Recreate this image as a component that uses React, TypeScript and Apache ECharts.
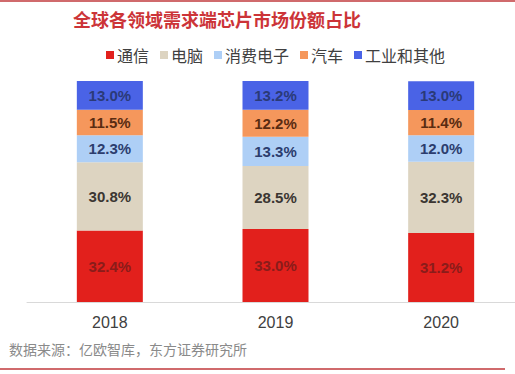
import React, { useEffect, useRef } from "react";
import * as echarts from "echarts";

const categories = ["2018", "2019", "2020"];
const seriesNames = ["通信", "电脑", "消费电子", "汽车", "工业和其他"];
const tongxin = [32.4, 33.0, 31.2];
const diannao = [30.8, 28.5, 32.3];
const xiaofei = [12.3, 13.3, 12.0];
const qiche = [11.5, 12.2, 11.4];
const gongye = [13.0, 13.2, 13.0];
const titleText = "全球各领域需求端芯片市场份额占比";
const sourceText = "数据来源：亿欧智库，东方证券研究所";

const colors = ["#e2201c", "#ddd4c1", "#aecff6", "#f5975c", "#4a63e6"];
const labelColors = ["#8a1c1a", "#3b3632", "#2c3d6e", "#5a2c12", "#2a3a78"];

export default function App() {
  const ref = useRef<HTMLDivElement>(null);
  useEffect(() => {
    if (!ref.current) return;
    const chart = echarts.init(ref.current, null, { renderer: "svg" });
    const dataSets = [tongxin, diannao, xiaofei, qiche, gongye];
    const font = "Arial, 'Liberation Sans', 'Noto Sans CJK SC', sans-serif";
    chart.setOption({
      animation: false,
      backgroundColor: "#ffffff",
      title: {
        text: titleText,
        left: 68,
        top: 5,
        textStyle: { color: "#cc3438", fontSize: 18, fontWeight: "bold", fontFamily: "'Noto Sans CJK SC', sans-serif" },
      },
      legend: {
        data: seriesNames,
        left: 101,
        top: 42,
        icon: "rect",
        itemWidth: 8,
        itemHeight: 8,
        itemGap: 11,
        textStyle: { color: "#404040", fontSize: 16, fontFamily: "'Noto Sans CJK SC', sans-serif", padding: [0, 0, 0, -2] },
      },
      grid: { left: 27, width: 497, top: 81, bottom: 72 },
      xAxis: {
        type: "category",
        data: categories,
        axisLine: { lineStyle: { color: "#d9d9d9" } },
        axisTick: { show: false },
        axisLabel: { color: "#404040", fontSize: 16, margin: 12, fontFamily: font },
      },
      yAxis: { type: "value", min: 0, max: 100, show: false, splitLine: { show: false } },
      series: dataSets.map((d, i) => ({
        name: seriesNames[i],
        type: "bar",
        stack: "total",
        barWidth: 66,
        data: d,
        itemStyle: { color: colors[i] },
        label: {
          show: true,
          position: "inside",
          formatter: (p: any) => p.value.toFixed(1) + "%",
          color: labelColors[i],
          fontSize: 15,
          fontWeight: "bold",
          fontFamily: font,
        },
      })),
      graphic: [
        { type: "line", shape: { x1: 0, y1: 1, x2: 515, y2: 1 }, style: { stroke: "#c0393b", lineWidth: 1.5 } },
        { type: "line", shape: { x1: 0, y1: 369, x2: 505, y2: 369 }, style: { stroke: "#c0393b", lineWidth: 1.5 } },
        {
          type: "text",
          left: 9,
          top: 342,
          style: { text: sourceText, fill: "#8a8a8a", fontSize: 14, fontFamily: "'Noto Sans CJK SC', sans-serif" },
        },
      ],
    });
    return () => chart.dispose();
  }, []);
  return (
    <div style={{ width: 515, height: 374, position: "absolute", left: 0, top: 0, overflow: "hidden", background: "#fff" }}>
      <div ref={ref} style={{ width: 530, height: 374 }} />
    </div>
  );
}
